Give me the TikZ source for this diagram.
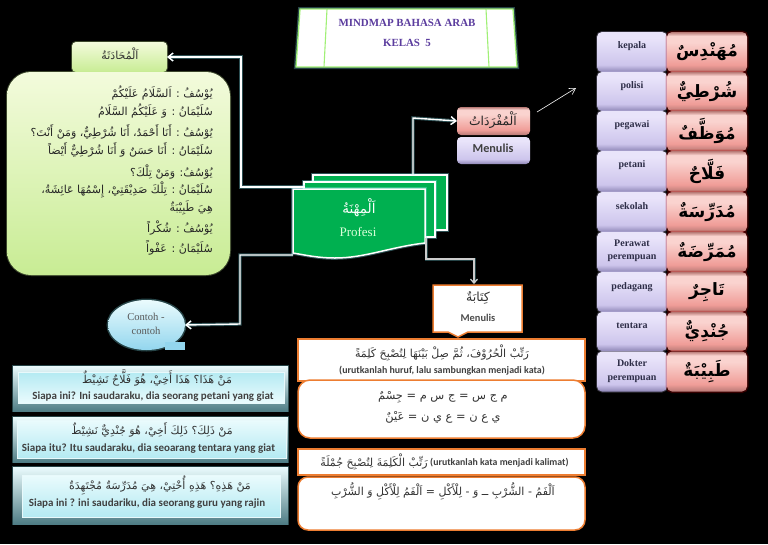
\documentclass[tikz,border=0pt]{standalone}
\usepackage{fontspec}
\usetikzlibrary{arrows.meta,shapes.geometric}
\setmainfont{Liberation Serif}
\setsansfont{Carlito}
\newfontfamily\arabicfont[Script=Arabic]{DejaVu Sans}
\TeXXeTstate=1
\newcommand{\arb}[1]{{\arabicfont\beginR #1\endR}}
\definecolor{pa}{HTML}{E9E4FA}\definecolor{pb}{HTML}{CDC5EC}\definecolor{pc}{HTML}{8E86B6}
\definecolor{ra}{HTML}{FAD3CF}\definecolor{rb}{HTML}{F09D98}\definecolor{rc}{HTML}{B87A76}
\definecolor{ga}{HTML}{F3FBDC}\definecolor{gb}{HTML}{C8EC94}
\definecolor{ca}{HTML}{EAFBFD}\definecolor{cb}{HTML}{B4EAF2}\definecolor{cc}{HTML}{4F7D85}
\definecolor{sky}{HTML}{93D6EE}
\definecolor{orangeline}{HTML}{ED7D31}
\definecolor{pagegreen}{HTML}{00B050}
\definecolor{glowc}{HTML}{7FE3EE}
\definecolor{titleink}{HTML}{5B3C9E}
\definecolor{darkink}{HTML}{2E2E48}
\pgfdeclareverticalshading{btnpurple}{100bp}{color(0bp)=(pc); color(25bp)=(pc); color(34bp)=(pb); color(68bp)=(pa); color(75bp)=(pa); color(100bp)=(pa)}
\pgfdeclareverticalshading{btnred}{100bp}{color(0bp)=(rb); color(25bp)=(rc); color(34bp)=(rb); color(62bp)=(ra); color(70bp)=(ra); color(75bp)=(rc); color(100bp)=(rc)}
\tikzset{
  basebox/.style={inner sep=0pt,outer sep=0pt},
  pbtn/.style={basebox,rounded corners=5pt,shade,shading=btnpurple,minimum width=70pt,
     preaction={draw=pb,line width=2pt,opacity=.25}},
  rbtn/.style={basebox,rounded corners=5pt,shade,shading=btnred,minimum width=80pt,
     preaction={draw=red!70!black,line width=3pt,opacity=.3}},
  lbl/.style={inner sep=0pt,font=\bfseries\fontsize{10}{13.5}\selectfont,text=darkink,align=center},
  arbig/.style={inner sep=0pt,font=\bfseries\fontsize{17}{20}\selectfont,text=black},
  dlg/.style={inner sep=0pt,anchor=east,font=\fontsize{11}{13}\selectfont,text=black!85},
  panel/.style={basebox,shade,top color=ca,bottom color=cc,
     preaction={draw=glowc,line width=2.5pt,opacity=.3}},
  panelin/.style={basebox,shade,draw=white!70!cb,line width=.5pt},
  oline/.style={basebox,draw=orangeline,line width=1.5pt,fill=white},
  ex/.style={inner sep=0pt,font=\fontsize{11}{13}\selectfont,text=black!80},
  cal/.style={inner sep=0pt,font=\sffamily\bfseries\fontsize{11}{13}\selectfont,text=black!75},
  link/.style={draw=white,line width=1.4pt,preaction={draw=glowc,line width=3.4pt,opacity=.35}},
  tipw/.style={-{Straight Barb[length=5pt,width=8pt,line width=1.4pt]}},
  page/.style={fill=pagegreen,draw=white,line width=1.5pt,preaction={draw=glowc,line width=3.6pt,opacity=.35}},
}
\newcommand{\tabrow}[6]{%
  \node[pbtn,minimum height=#3pt] (p#1) at (632,#2) {};
  \node[rbtn,minimum height=#3pt] (r#1) at (707,#2) {};
  \node[lbl] (pt#1) at (632,#4) {#5};
  \node[arbig] (rt#1) at (707,#2) {\arb{#6}};
}
\begin{document}
\begin{tikzpicture}[x=1pt,y=-1pt]
\useasboundingbox (0,0) rectangle (768,544);
\fill[black] (0,0) rectangle (768,544);

% title
\draw[fill=white,draw=gb!80!green,line width=1.3pt,preaction={draw=glowc,line width=4pt,opacity=.3}]
  (300,9) -- (513,9) -- (517,67) -- (296,67) -- cycle;
\draw[draw=gb!80!green,line width=1.1pt] (327,9) -- (324,67);
\draw[draw=gb!80!green,line width=1.1pt] (486,9) -- (489,67);
\node[inner sep=0pt,font=\bfseries\fontsize{10.9}{13}\selectfont,text=titleink] (t1) at (407,23) {MINDMAP BAHASA ARAB};
\node[inner sep=0pt,font=\bfseries\fontsize{10.9}{13}\selectfont,text=titleink] (t2) at (407,43) {KELAS\ \ 5};

% stacked document, back to front
\draw[page] (313,175) -- (447,175) -- (447,230) -- (313,230) -- cycle;
\draw[page] (304,182) -- (435,182) -- (435,237) -- (304,237) -- cycle;
\draw[page] (293,189) -- (425,189) -- (425,243) .. controls (390,247) and (365,258) .. (335,258) .. controls (318,258) and (305,255) .. (293,253) -- cycle;
\node[inner sep=0pt,font=\fontsize{13.5}{16}\selectfont,text=white] (mihna) at (359,208) {\arb{اَلْمِهْنَةُ}};
\node[inner sep=0pt,font=\fontsize{13}{15}\selectfont,text=white!85!green] (profesi) at (358,232) {Profesi};
\coordinate (outDialog) at (305,187);
\coordinate (cornerDialogA) at (241,187);
\coordinate (outMuf) at (413,175);
\coordinate (cornerMuf) at (413,118);
\coordinate (outKit) at (426,238);
\coordinate (cornerKitA) at (426,259);
\coordinate (cornerKitB) at (474,259);
\coordinate (outCon) at (293,255);
\coordinate (cornerConA) at (240,255);
\coordinate (cornerConB) at (240,324);
\coordinate (cornerDialogB) at (241,57);

% dialog
\node[basebox,rounded corners=4pt,shade,top color=ga,bottom color=gb,minimum width=95pt,minimum height=30pt,
      preaction={draw=gb,line width=2pt,opacity=.3}] (hdr) at (119.5,57) {};
\node[inner sep=0pt,font=\fontsize{11}{13}\selectfont,text=black!80] (hdrt) at (120,54) {\arb{اَلْمُحَادَثَةُ}};
\node[basebox,rounded corners=24pt,shade,top color=ga,bottom color=gb,minimum width=223pt,minimum height=203pt,
      preaction={draw=gb,line width=2pt,opacity=.3}] (dlgbox) at (118.5,173.5) {};
\node[dlg] (d1) at (213,93) {\arb{يُوْسُفُ : اَلسَّلَامُ عَلَيْكُمْ}};
\node[dlg] (d2) at (213,111) {\arb{سُلَيْمَانُ : وَ عَلَيْكُمُ السَّلَامُ}};
\node[dlg] (d3) at (213,132) {\arb{يُوْسُفُ : أَنَا أَحْمَدُ، أَنَا شُرْطِيٌّ، وَمَنْ أَنْتَ؟}};
\node[dlg] (d4) at (213,150) {\arb{سُلَيْمَانُ : أَنَا حَسَنٌ وَ أَنَا شُرْطِيٌّ أَيْضاً}};
\node[dlg] (d5) at (213,172) {\arb{يُوْسُفُ: وَمَنْ تِلْكَ؟}};
\node[dlg] (d6) at (213,190) {\arb{سُلَيْمَانُ : تِلْكَ صَدِيْقَتِيْ، إِسْمُهَا عَائِشَةُ،}};
\node[dlg] (d7) at (213,208) {\arb{هِيَ طَبِيْبَةٌ}};
\node[dlg] (d8) at (213,228) {\arb{يُوْسُفُ : شُكْراً}};
\node[dlg] (d9) at (213,248) {\arb{سُلَيْمَانُ : عَفْواً}};

% mufradat
\node[basebox,rounded corners=4pt,shade,shading=btnred,minimum width=73pt,minimum height=28pt] (muf) at (493.5,121) {};
\node[inner sep=0pt,font=\fontsize{12.3}{14}\selectfont,text=black!85] (muft) at (493,120) {\arb{اَلْمُفْرَدَاتُ}};
\node[basebox,rounded corners=4pt,shade,shading=btnpurple,minimum width=73pt,minimum height=27pt] (men) at (493.5,150.5) {};
\node[inner sep=0pt,font=\sffamily\bfseries\fontsize{12.2}{14}\selectfont,text=black!75] (ment) at (493,148) {Menulis};
\coordinate (thinA) at (537,112);
\coordinate (thinB) at (576,88);
\draw[draw=white,line width=.6pt,-{Straight Barb[length=6pt,width=7pt,line width=.6pt]}] (thinA) -- (thinB);

% table
\tabrow{1}{52}{40}{46}{kepala}{مُهَنْدِسٌ}
\tabrow{2}{91.5}{39}{86}{polisi}{شُرْطِيٌّ}
\tabrow{3}{131}{40}{125}{pegawai}{مُوَظَّفٌ}
\tabrow{4}{171.5}{41}{165}{petani}{فَلَّاحٌ}
\tabrow{5}{212}{40}{206}{sekolah}{مُدَرِّسَةٌ}
\tabrow{6}{252}{40}{251}{Perawat\\perempuan}{مُمَرِّضَةٌ}
\tabrow{7}{292}{40}{287}{pedagang}{تَاجِرٌ}
\tabrow{8}{331.5}{39}{326}{tentara}{جُنْدِيٌّ}
\tabrow{9}{371.5}{40}{371}{Dokter\\perempuan}{طَبِيْبَةٌ}

% contoh
\node[basebox,shape=ellipse,shade,top color=ca,bottom color=sky,minimum width=77pt,minimum height=50pt,
      preaction={draw=glowc,line width=3pt,opacity=.3}] (con) at (146.5,325) {};
\fill[sky] (165,342) -- (185,342) -- (185,350) -- (165,350) -- cycle;
\node[inner sep=0pt,align=center,font=\fontsize{10.6}{14}\selectfont,text=black!65] (cont) at (146,324) {Contoh -\\contoh};

% connectors
\draw[link,tipw] (outDialog) -- (cornerDialogA) -- (cornerDialogB) -- (hdr.east);
\draw[link,tipw] (outMuf) -- (cornerMuf) -- (muf.west);
\draw[link,tipw] (outCon) -- (cornerConA) -- (cornerConB) -- (con.east);

% kitabah
\draw[oline] (433,285) -- (522,285) -- (522,332) -- (468,332) -- (458,337) -- (448,332) -- (433,332) -- cycle;
\node[inner sep=0pt,font=\fontsize{12.5}{14}\selectfont,text=black!80] (kit) at (478,298) {\arb{كِتَابَةٌ}};
\node[inner sep=0pt,font=\sffamily\bfseries\fontsize{10.4}{12}\selectfont,text=black!70] (kitm) at (478,318) {Menulis};
\coordinate (kitTip) at (474,284);
\draw[draw=white!80!black,line width=1.2pt,-{Straight Barb[length=4pt,width=7pt,line width=1.2pt]},preaction={draw=glowc,line width=3pt,opacity=.3}] (outKit) -- (cornerKitA) -- (cornerKitB) -- (kitTip);

% exercise 1
\node[oline,minimum width=287pt,minimum height=42pt] (e1h) at (441.5,360) {};
\node[ex] (e1a) at (442,353) {\arb{رَتِّبْ الْحُرُوْفَ، ثُمَّ صِلْ بَيْنَهَا لِتُصْبِحَ كَلِمَةً}};
\node[cal,font=\sffamily\bfseries\fontsize{9.9}{12}\selectfont] (e1b) at (442,371) {(urutkanlah huruf, lalu sambungkan menjadi kata)};
\node[oline,rounded corners=12pt,minimum width=287pt,minimum height=58pt] (e1box) at (441.5,409) {};
\node[ex,font=\fontsize{11.4}{13}\selectfont] (e1c) at (443,397) {\arb{م ج س = ج س م = جِسْمٌ}};
\node[ex,font=\fontsize{11.4}{13}\selectfont] (e1d) at (443,417) {\arb{ي ع ن = ع ي ن = عَيْنٌ}};

% exercise 2
\node[oline,minimum width=287pt,minimum height=26pt] (e2h) at (441.5,462) {};
\node[ex,anchor=east] (e2a) at (428,462) {\arb{رَتِّبْ الْكَلِمَةَ لِتُصْبِحَ جُمْلَةً}};
\node[cal,anchor=west,font=\sffamily\bfseries\fontsize{9.8}{12}\selectfont] (e2b) at (430,463) {(urutkanlah kata menjadi kalimat)};
\node[oline,rounded corners=10pt,minimum width=287pt,minimum height=53pt] (e2box) at (441.5,503.5) {};
\node[ex] (e2c) at (443,491) {\arb{اَلْفَمُ - الشُّرْبِ ــ وَ - لِلْأَكْلِ = اَلْفَمُ لِلْأَكْلِ وَ الشُّرْبِ}};

% example panels
\node[panel,minimum width=275pt,minimum height=45pt] (x1) at (150.5,388.5) {};
\node[panelin,top color=cb,bottom color=ca,minimum width=266pt,minimum height=31pt] (x1i) at (151,387.5) {};
\node[ex] (x1a) at (157,378) {\arb{مَنْ هَذَا؟ هَذَا أَخِيْ، هُوَ فَلَّاحٌ نَشِيْطٌ}};
\node[cal] (x1b) at (153,397) {Siapa ini? Ini saudaraku, dia seorang petani yang giat};
\node[panel,minimum width=275pt,minimum height=45pt] (x2) at (150.5,439.5) {};
\node[panelin,top color=ca,bottom color=cb,minimum width=269pt,minimum height=38pt] (x2i) at (151.5,439) {};
\node[ex] (x2a) at (152,430) {\arb{مَنْ ذَلِكَ؟ ذَلِكَ أَخِيْ، هُوَ جُنْدِيٌّ نَشِيْطٌ}};
\node[cal] (x2b) at (148.5,449) {Siapa itu? Itu saudaraku, dia seoarang tentara yang giat};
\node[panel,minimum width=275pt,minimum height=57pt] (x3) at (150.5,495.5) {};
\node[panelin,top color=ca,bottom color=cb,minimum width=258pt,minimum height=42pt] (x3i) at (151,496) {};
\node[ex] (x3a) at (160,485) {\arb{مَنْ هَذِهِ؟ هَذِهِ أُخْتِيْ، هِيَ مُدَرِّسَةٌ مُجْتَهِدَةٌ}};
\node[cal] (x3b) at (147,504) {Siapa ini ? ini saudariku, dia seorang guru yang rajin};
\end{tikzpicture}
\end{document}
